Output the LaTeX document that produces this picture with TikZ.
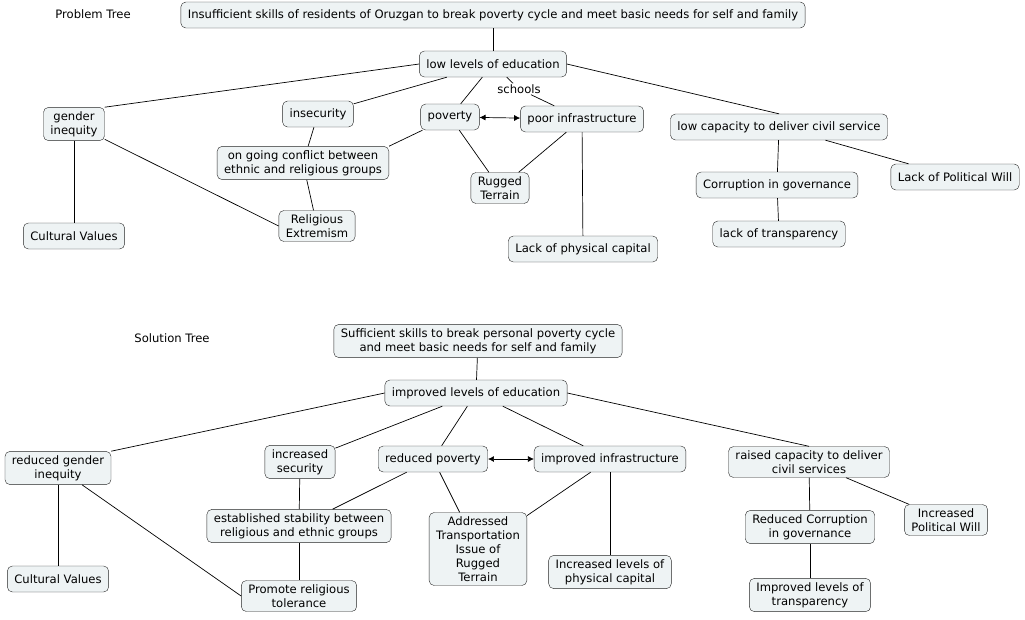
\documentclass[tikz,border=0pt]{standalone}
\usepackage{fontspec}
\setmainfont{DejaVu Sans}
\usetikzlibrary{arrows.meta}
\definecolor{boxfill}{HTML}{EEF3F4}
\begin{document}
\begin{tikzpicture}[x=1pt,y=-1pt,
  box/.style={draw=black!85,rounded corners=5pt,fill=boxfill,align=center,inner xsep=7pt,inner ysep=4pt,minimum height=26pt,font=\fontsize{11.6}{14}\selectfont},
  lbl/.style={font=\fontsize{11.6}{14}\selectfont,inner sep=1pt},
  ln/.style={draw=black,line width=0.7pt},
  dbl/.style={ln,{Latex[length=6pt,width=6pt]}-{Latex[length=6pt,width=6pt]}}]
\useasboundingbox (0,0) rectangle (1025,619);
% Problem tree
\node[lbl] (pt) at (93,14) {Problem Tree};
\node[box] (a) at (493,15) {Insufficient skills of residents of Oruzgan to break poverty cycle and meet basic needs for self and family};
\node[box] (b) at (493,64) {low levels of education};
\node[box] (gi) at (74,124) {gender\\inequity};
\node[box] (ins) at (318,114) {insecurity};
\node[box] (pov) at (450,117) {poverty};
\node[lbl] (sch) at (519,89) {schools};
\node[box] (pi) at (582,119) {poor infrastructure};
\node[box] (lc) at (779,127) {low capacity to deliver civil service};
\node[box] (oc) at (303,163) {on going conflict between\\ethnic and religious groups};
\node[box] (rt) at (500,188) {Rugged\\Terrain};
\node[box] (cv) at (74,236) {Cultural Values};
\node[box] (re) at (317,226) {Religious\\Extremism};
\node[box] (lp) at (583,249) {Lack of physical capital};
\node[box] (cg) at (777,185) {Corruption in governance};
\node[box] (pw) at (955,177) {Lack of Political Will};
\node[box] (lt) at (779,234) {lack of transparency};
\draw[ln] (a) -- (b);
\draw[ln] (b.west) -- (gi.north east);
\draw[ln] (b) -- (ins);
\draw[ln] (b) -- (pov);
\draw[ln] (b) -- (sch) -- (pi);
\draw[ln] (b.east) -- (lc.north);
\draw[ln] (ins) -- (oc);
\draw[ln] (pov) -- (oc.north east);
\draw[dbl] (pov) -- (pi);
\draw[ln] (pov) -- (rt);
\draw[ln] (pi) -- (rt);
\draw[ln] (pi) -- (lp);
\draw[ln] (gi) -- (cv);
\draw[ln] (gi) -- (re.west);
\draw[ln] (oc) -- (re);
\draw[ln] (lc) -- (cg);
\draw[ln] (lc) -- (pw);
\draw[ln] (cg) -- (lt);
% Solution tree
\node[lbl] (st) at (172,338) {Solution Tree};
\node[box] (s) at (478,341) {Sufficient skills to break personal poverty cycle\\and meet basic needs for self and family};
\node[box] (il) at (476,393) {improved levels of education};
\node[box] (rg) at (58,468) {reduced gender\\inequity};
\node[box] (is) at (300,462) {increased\\security};
\node[box] (rp) at (433,459) {reduced poverty};
\node[box] (ii) at (610,459) {improved infrastructure};
\node[box] (rc) at (809,462) {raised capacity to deliver\\civil services};
\node[box] (es) at (299,526) {established stability between\\religious and ethnic groups};
\node[box] (at) at (478,549) {Addressed\\Transportation\\Issue of\\Rugged\\Terrain};
\node[box] (ic) at (610,572) {Increased levels of\\physical capital};
\node[box] (rcg) at (810,527) {Reduced Corruption\\in governance};
\node[box] (ipw) at (946,520) {Increased\\Political Will};
\node[box] (it) at (810,595) {Improved levels of\\transparency};
\node[box] (cv2) at (58,579) {Cultural Values};
\node[box] (prt) at (299,596) {Promote religious\\tolerance};
\draw[ln] (s) -- (il);
\draw[ln] (il.west) -- (rg.north east);
\draw[ln] (il) -- (is);
\draw[ln] (il) -- (rp);
\draw[ln] (il) -- (ii);
\draw[ln] (il.east) -- (rc.north);
\draw[dbl] (rp) -- (ii);
\draw[ln] (is) -- (es);
\draw[ln] (rp) -- (es);
\draw[ln] (rp) -- (at);
\draw[ln] (ii) -- (at);
\draw[ln] (ii) -- (ic);
\draw[ln] (rg) -- (cv2);
\draw[ln] (rg) -- (prt.west);
\draw[ln] (es) -- (prt);
\draw[ln] (rc) -- (rcg);
\draw[ln] (rc) -- (ipw);
\draw[ln] (rcg) -- (it);
\end{tikzpicture}
\end{document}
